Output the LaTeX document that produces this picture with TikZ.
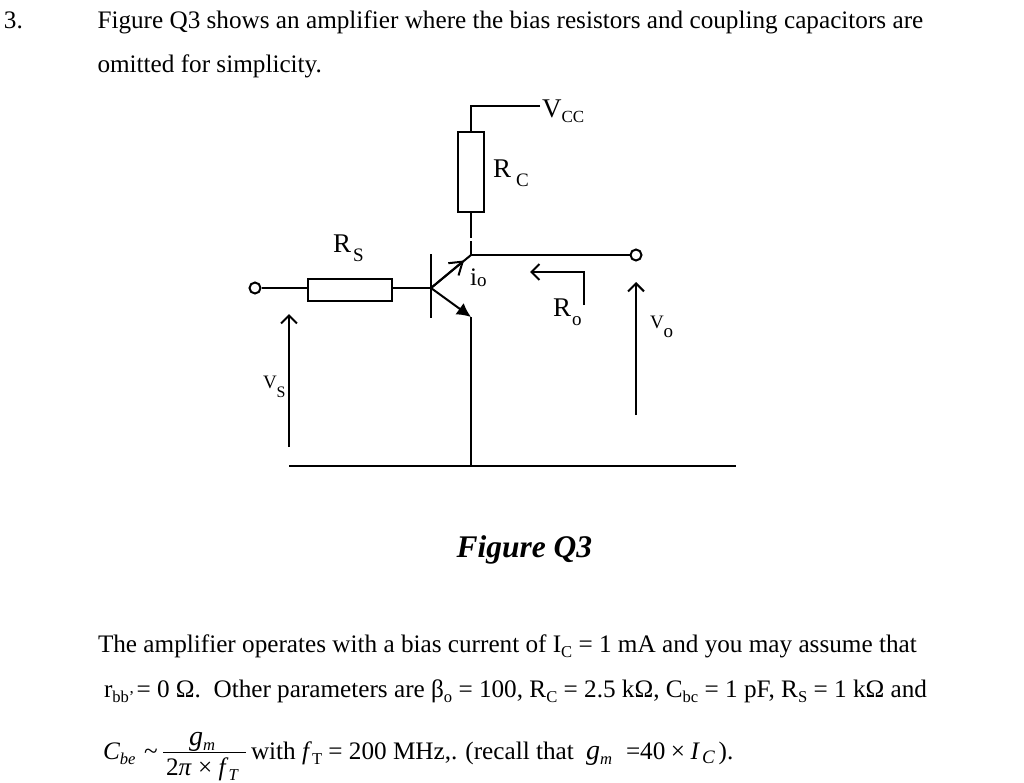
\documentclass[tikz,border=0pt]{standalone}
\usepackage{fontspec}
\setmainfont{Liberation Serif}
\usetikzlibrary{arrows.meta}
\newcommand{\bodyfont}{\fontsize{25.2}{30}\selectfont}
\newcommand{\lblfont}{\fontsize{27}{32}\selectfont}
\newcommand{\smallfont}{\fontsize{19}{22}\selectfont}
\newcommand{\bigfont}{\fontsize{28}{32}\selectfont}
\newcommand{\subtxt}[1]{\raisebox{-.2em}{\fontsize{16.6}{18}\selectfont #1}}
\newcommand{\sublbl}[3][19]{\raisebox{#2}{\fontsize{#1}{22}\selectfont #3}}
\begin{document}
\begin{tikzpicture}[x=1pt,y=-1pt,
  thick,line width=2pt,
  line node/.style={anchor=base west,inner sep=0pt,font=\bodyfont},
  lbl node/.style={anchor=base west,inner sep=0pt,font=\lblfont},
  res node/.style={rectangle,draw,line width=2.2pt,inner sep=0pt},
  term node/.style={circle,draw,minimum size=11pt,inner sep=0pt},
  open arrow/.style={-{Straight Barb[length=8pt,width=16pt,line width=2pt]}},
  long arrow/.style={-{Straight Barb[length=12pt,width=16pt,line width=2pt]}},
  full arrow/.style={-{Latex[length=14pt,width=14pt]}}]

  \useasboundingbox (0,0) rectangle (1024,782);

  % question text
  \node[line node] (qnum) at (3,28){3.};
  \node[line node] (q1) at (96.5,28){Figure Q3 shows an amplifier where the bias resistors and coupling capacitors are};
  \node[line node] (q2) at (96.5,72){omitted for simplicity.};
  \node[line node,font=\fontsize{31.5}{38}\selectfont\bfseries\itshape] (cap) at (455.5,557){Figure Q3};
  \node[line node] (t1) at (97,652){The amplifier operates with a bias current of I\subtxt{C} = 1 mA and you may assume that};
  \node[line node] (t2) at (103,697){r\subtxt{bb'}\hspace{2pt}= 0 Ω.\ \ Other parameters are β\subtxt{o} = 100, R\subtxt{C} = 2.5 kΩ, C\subtxt{bc} = 1 pF, R\subtxt{S} = 1 kΩ and};
  \node[line node] (cbe) at (102,759){\itshape C\subtxt{be}};
  \node[line node] (sim) at (143,759){\string~};
  \node[line node,font=\bigfont] (num) at (188,745){\itshape g\subtxt{m}};
  \node[line node] (den) at (165,775){2\textit{π} × \textit{f}\subtxt{\itshape T}};
  \node[line node] (t3) at (250,759){with \textit{f}\subtxt{T} = 200 MHz,.\hspace{8pt}(recall that};
  \node[line node,font=\bigfont] (gm) at (585,759){\itshape g\subtxt{m}};
  \node[line node] (t4) at (625,759){=40\hspace{5.5pt}×\hspace{5.5pt}\textit{I}\hspace{2pt}\sublbl{-4pt}{\itshape C}\hspace{4pt}).};
  \coordinate (fl) at (163,752);
  \coordinate (fr) at (246,752);
  \draw[line width=1pt] (fl) -- (fr);

  % circuit
  \node[res node,minimum width=26pt,minimum height=80pt] (rc) at (471,172){};
  \node[res node,minimum width=84pt,minimum height=22pt] (rs) at (350,290){};
  \node[term node] (in) at (255,288){};
  \node[term node] (out) at (636,255){};

  \coordinate (vcc) at (540,106);
  \coordinate (vcccorner) at (471,106);
  \coordinate (rcgapa) at (471,238);
  \coordinate (rcgapb) at (471,241);
  \coordinate (col) at (471,255);
  \coordinate (base) at (431,288);
  \coordinate (bartop) at (431,254);
  \coordinate (barbot) at (431,318);
  \coordinate (emit) at (471,317);
  \coordinate (iotip) at (464,260.5);
  \coordinate (gndmid) at (471,466);
  \coordinate (gndl) at (289,466);
  \coordinate (gndr) at (736,466);
  \coordinate (vsa) at (289,447);
  \coordinate (vsb) at (289,314);
  \coordinate (voa) at (636,415);
  \coordinate (vob) at (636,282);
  \coordinate (roa) at (584,305);
  \coordinate (rob) at (584,272);
  \coordinate (roc) at (530,272);

  \draw (vcc) -- (vcccorner) -- (rc.north);
  \draw (rc.south) -- (rcgapa);
  \draw (rcgapb) -- (col) -- (out);
  \draw (in) -- (in -| rs.west);
  \draw (rs.east |- base) -- (base);
  \draw (bartop) -- (barbot);
  \draw (base) -- (col);
  \draw[long arrow] (base) -- (iotip);
  \draw[full arrow] (base) -- (emit);
  \draw (emit) -- (gndmid);
  \draw (gndl) -- (gndr);
  \draw[open arrow] (vsa) -- (vsb);
  \draw[open arrow] (voa) -- (vob);
  \draw[open arrow] (roa) -- (rob) -- (roc);

  % circuit labels
  \node[lbl node] (lvcc) at (541,117){V\sublbl[17]{-5pt}{CC}};
  \node[lbl node] (lrc) at (492,177){R\hspace{5pt}\sublbl{-9pt}{C}};
  \node[lbl node] (lrs) at (332,252){R\hspace{2pt}\sublbl{-9pt}{S}};
  \node[lbl node,font=\bodyfont] (lio) at (469,285){i\sublbl{-1.5pt}{o}};
  \node[lbl node] (lro) at (552,316){R\hspace{1pt}\sublbl{-9pt}{o}};
  \node[lbl node,font=\smallfont] (lvo) at (649,328){V\sublbl{-9pt}{o}};
  \node[lbl node,font=\smallfont] (lvs) at (262,388){V\sublbl[16]{-9pt}{S}};
\end{tikzpicture}
\end{document}
